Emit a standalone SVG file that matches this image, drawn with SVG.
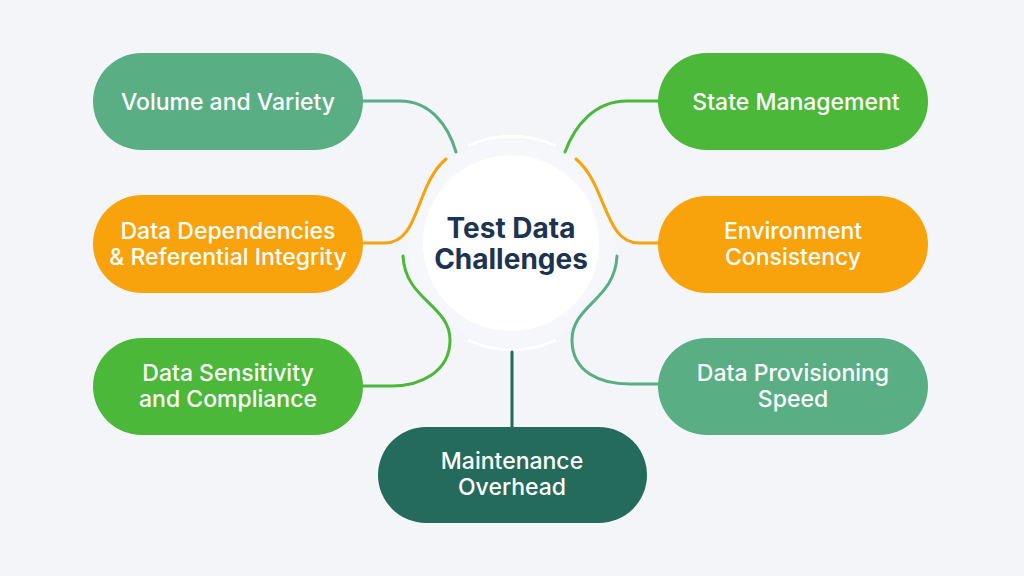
<svg xmlns="http://www.w3.org/2000/svg" width="1024" height="576" viewBox="0 0 1024 576">
<style>
.bg{fill:#f3f5f9}
.teal{fill:#5aae84}
.green{fill:#4cb83a}
.orange{fill:#f8a20c}
.dark{fill:#246b5b}
.lbl{font-family:Inter,"Noto Sans","Liberation Sans",sans-serif;font-size:23px;fill:#ffffff;text-anchor:middle;font-weight:500}
.title{font-family:Inter,"Noto Sans","Liberation Sans",sans-serif;font-size:28px;fill:#1d3451;text-anchor:middle;font-weight:700}
.c{fill:none;stroke-width:3;stroke-linecap:round}
.ct{stroke:#5aae84}
.cg{stroke:#4cb83a}
.co{stroke:#f8a20c}
.cd{stroke:#246b5b}
</style>
<rect class="bg" x="0" y="0" width="1024" height="576"/>
<g id="center">
<circle cx="512" cy="243" r="104" fill="#f6f7fa"/>
<path d="M468,146 A104,104 0 0 1 556,146" fill="none" stroke="#ffffff" stroke-width="3"/>
<path d="M468,340 A104,104 0 0 0 556,340" fill="none" stroke="#ffffff" stroke-width="3"/>
<circle cx="511" cy="243" r="88" fill="#ffffff"/>
<text class="title" x="511" y="238">Test Data</text>
<text class="title" x="511" y="269">Challenges</text>
</g>
<g id="connectors">
<path class="c ct" d="M363,101 L400,101 C430,101 448,125 456,152"/>
<path class="c co" d="M363,243 L385,243 C420,243 415,185 446,159"/>
<path class="c cg" d="M403,256 C405,300 450,305 450,340 C450,372 420,386 392,386 L363,386"/>
<path class="c cg" d="M565,152 C575,125 595,101 627,101 L658,101"/>
<path class="c co" d="M576,159 C607,185 604,243 639,243 L658,243"/>
<path class="c ct" d="M617,256 C615,300 572,305 572,340 C572,372 600,384 630,384 L658,384"/>
<path class="c cd" d="M512,352 L512,427"/>
</g>
<g id="volume">
<rect class="teal" x="93" y="53" width="270" height="97" rx="48.5"/>
<text class="lbl" x="228" y="110">Volume and Variety</text>
</g>
<g id="dependencies">
<rect class="orange" x="93" y="195" width="270" height="98" rx="49"/>
<text class="lbl" x="228" y="239">Data Dependencies</text>
<text class="lbl" x="228" y="265">&amp; Referential Integrity</text>
</g>
<g id="sensitivity">
<rect class="green" x="93" y="338" width="270" height="97" rx="48.5"/>
<text class="lbl" x="228" y="381">Data Sensitivity</text>
<text class="lbl" x="228" y="407">and Compliance</text>
</g>
<g id="state">
<rect class="green" x="658" y="53" width="270" height="97" rx="48.5"/>
<text class="lbl" x="796" y="110">State Management</text>
</g>
<g id="environment">
<rect class="orange" x="658" y="196" width="270" height="97" rx="48.5"/>
<text class="lbl" x="793" y="239">Environment</text>
<text class="lbl" x="793" y="265">Consistency</text>
</g>
<g id="provisioning">
<rect class="teal" x="658" y="338" width="270" height="97" rx="48.5"/>
<text class="lbl" x="793" y="381">Data Provisioning</text>
<text class="lbl" x="793" y="407">Speed</text>
</g>
<g id="maintenance">
<rect class="dark" x="378" y="427" width="269" height="96" rx="48"/>
<text class="lbl" x="512" y="469">Maintenance</text>
<text class="lbl" x="512" y="495">Overhead</text>
</g>
</svg>
